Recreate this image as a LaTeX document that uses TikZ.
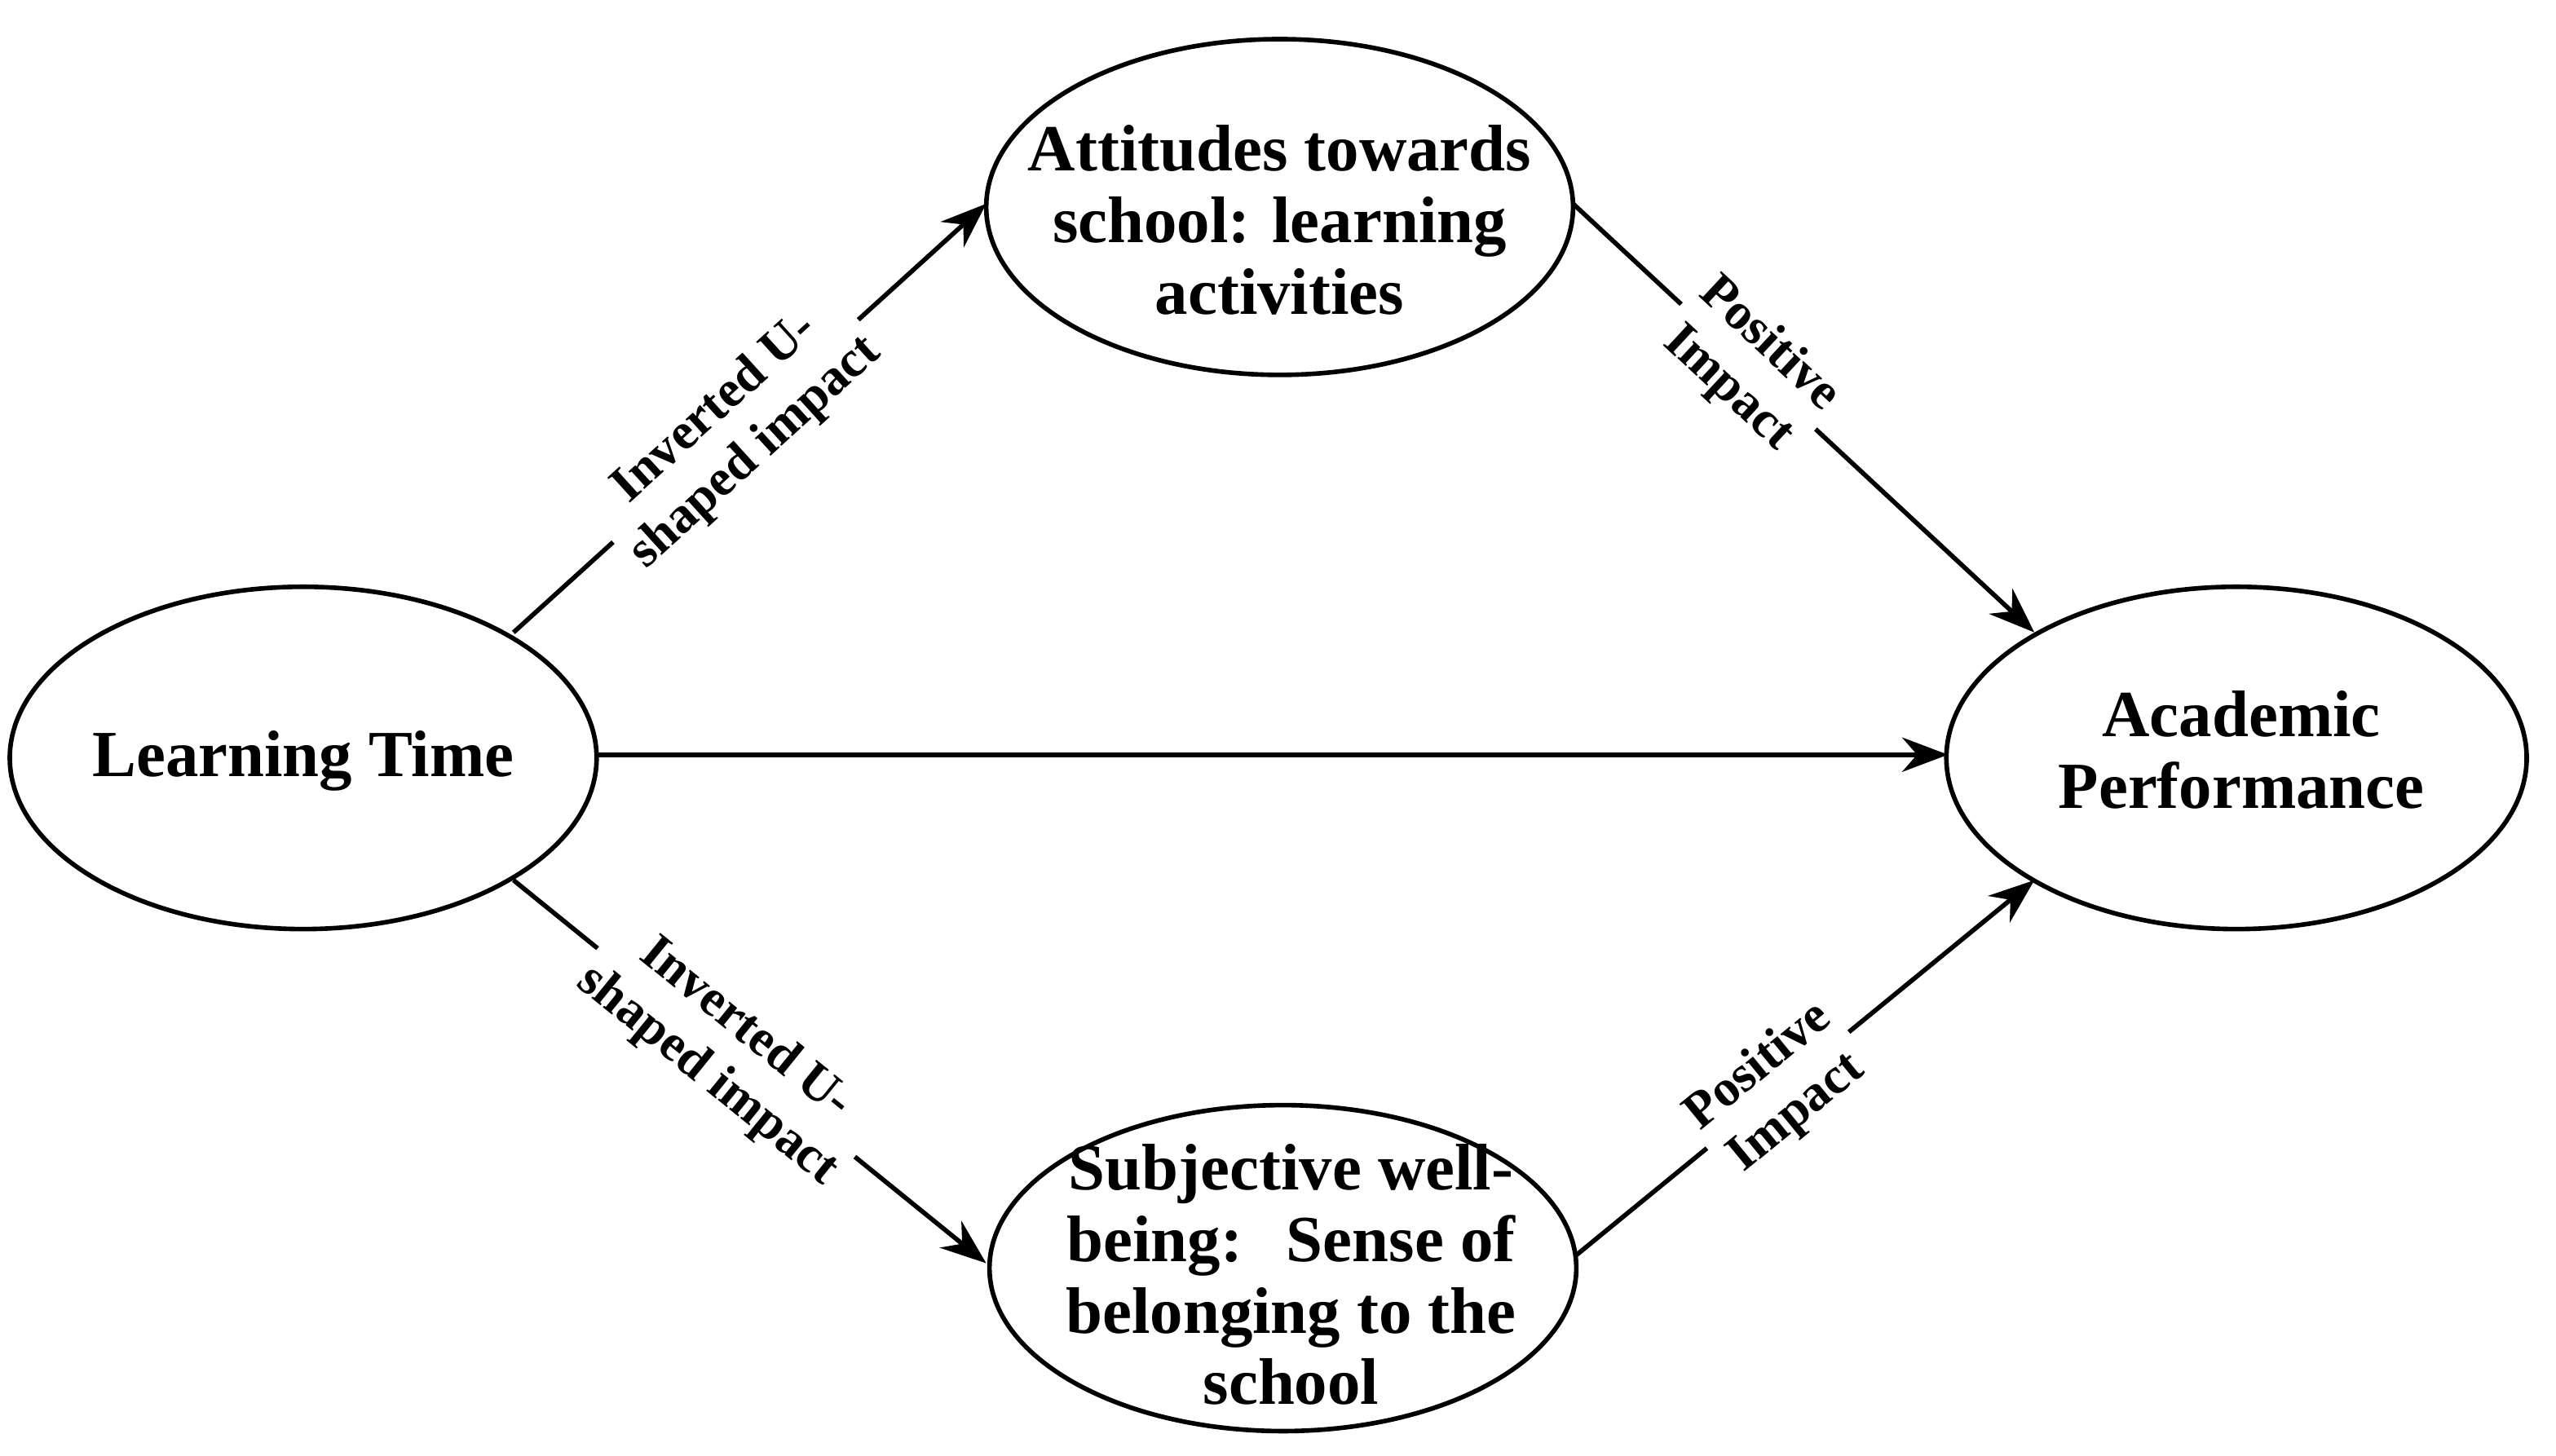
\documentclass[tikz,border=0pt]{standalone}
\usepackage{fontspec}
\setmainfont{Liberation Serif}
\usetikzlibrary{shapes.geometric,arrows.meta}
\begin{document}
\begin{tikzpicture}[x=0.02cm,y=-0.02cm,
  txt/.style={font=\bfseries\fontsize{23}{25}\selectfont,align=center,inner sep=0pt},
  lab/.style={font=\bfseries\fontsize{18}{21}\selectfont,align=center,fill=white,inner sep=2pt,sloped},
  arr/.style={line width=1.6pt,-{Stealth[length=16pt,width=12pt]}}]
\useasboundingbox (0,0) rectangle (1568,893);
\draw[line width=1.6pt] (186,465) ellipse [x radius=180,y radius=105];
\node[txt] (lt) at (186,467) {Learning Time};
\draw[line width=1.6pt] (785,127) ellipse [x radius=180,y radius=103];
\node[txt] (at) at (785,135) {Attitudes towards\\school: learning\\activities};
\draw[line width=1.6pt] (1372,465) ellipse [x radius=178,y radius=105];
\node[txt] (ap) at (1375,460) {Academic\\Performance};
\draw[line width=1.6pt] (787,778) ellipse [x radius=180,y radius=100];
\node[txt] (sw) at (792,782) {Subjective well-\\being:\,\, Sense of\\belonging to the\\school};
\coordinate (a1) at (315,388); \coordinate (a2) at (605,125);
\coordinate (b1) at (315,540); \coordinate (b2) at (605,775);
\coordinate (c1) at (965,125); \coordinate (c2) at (1248,388);
\coordinate (d1) at (967,770); \coordinate (d2) at (1248,540);
\coordinate (e1) at (366,463); \coordinate (e2) at (1195,463);
\draw[arr] (a1) -- node[lab,pos=0.47] {Inverted U-\\shaped impact} (a2);
\draw[arr] (b1) -- node[lab,pos=0.45] {Inverted U-\\shaped impact} (b2);
\draw[arr] (c1) -- node[lab,pos=0.38] {Positive\\Impact} (c2);
\draw[arr] (d1) -- node[lab,pos=0.44] {Positive\\Impact} (d2);
\draw[arr] (e1) -- (e2);
\end{tikzpicture}
\end{document}
